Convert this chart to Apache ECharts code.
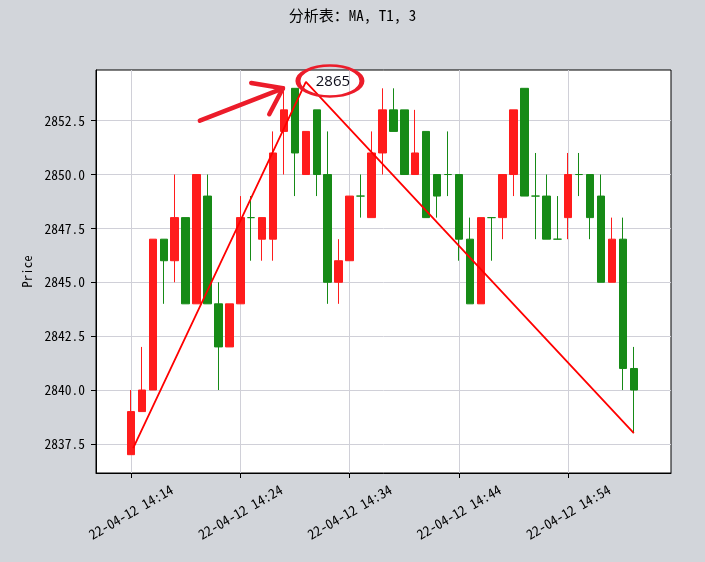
<!DOCTYPE html>
<html><head><meta charset="utf-8">
<script src="https://cdn.jsdelivr.net/npm/echarts@6/dist/echarts.min.js"></script>
<style>html,body{margin:0;padding:0;background:#d2d5da;} #c{width:705px;height:562px;}</style>
</head><body><div id="c"></div>
<script>
const titleText = '分析表：MA, T1, 3';
const dateLabel = '22-04-12';
const times = ['14:14','14:15','14:16','14:17','14:18','14:19','14:20','14:21','14:22','14:23',
  '14:24','14:25','14:26','14:27','14:28','14:29','14:30','14:31','14:32','14:33',
  '14:34','14:35','14:36','14:37','14:38','14:39','14:40','14:41','14:42','14:43',
  '14:44','14:45','14:46','14:47','14:48','14:49','14:50','14:51','14:52','14:53',
  '14:54','14:55','14:56','14:57','14:58','14:59','15:00'];
const opens  = [2837,2839,2840,2847,2846,2848,2844,2849,2844,2842,2844,2848,2847,2847,2852,2854,2850,2853,2850,2845,2846,2849,2848,2851,2853,2853,2850,2852,2850,2850,2850,2847,2844,2848,2848,2850,2854,2849,2849,2847,2848,2850,2850,2849,2845,2847,2841];
const closes = [2839,2840,2847,2846,2848,2844,2850,2844,2842,2844,2848,2848,2848,2851,2853,2851,2852,2850,2845,2846,2849,2849,2851,2853,2852,2850,2851,2848,2849,2850,2847,2844,2848,2848,2850,2853,2849,2849,2847,2847,2850,2850,2848,2845,2847,2841,2840];
const lows   = [2837,2839,2840,2844,2845,2844,2844,2844,2840,2842,2844,2846,2846,2846,2850,2849,2850,2849,2844,2844,2846,2848,2848,2850,2852,2850,2850,2848,2848,2849,2846,2844,2844,2846,2847,2849,2849,2847,2847,2847,2847,2849,2847,2845,2845,2840,2838];
const highs  = [2840,2842,2847,2847,2850,2848,2850,2850,2845,2844,2849,2849,2848,2852,2854,2854,2852,2853,2852,2847,2849,2850,2852,2854,2854,2853,2853,2852,2850,2852,2850,2848,2848,2848,2850,2853,2854,2851,2850,2849,2851,2851,2850,2850,2848,2848,2842];
const xTickIdx = [0, 10, 20, 30, 40];
const yTicks = [2837.5, 2840, 2842.5, 2845, 2847.5, 2850, 2852.5];
const xRange = [-3.2, 49.4];
const yRange = [2836.15, 2854.85];
const trendLine = [[0.2, 2837.3], [16, 2854.3], [46, 2838]];
const arrowSegs = [
  [[6.3, 2852.5], [13.9, 2854.0]],
  [[11.0, 2854.25], [13.9, 2854.0]],
  [[12.65, 2852.8], [13.9, 2854.0]]
];
const noteText = '2865';
const notePos = [18.2, 2854.34];

const RED = '#ff1c1c', GREEN = '#168a16', ANNO = '#ec1c2a';
const FONT = "'Noto Sans Mono CJK SC', 'Noto Sans CJK SC', 'DejaVu Sans Mono', monospace";

const candleData = times.map((t, i) => {
  const item = { value: [i, opens[i], closes[i], lows[i], highs[i]] };
  if (opens[i] === closes[i]) {
    item.itemStyle = { color: GREEN, color0: GREEN, borderColor: GREEN, borderColor0: GREEN };
  }
  return item;
});

const chart = echarts.init(document.getElementById('c'), null, { renderer: 'canvas' });
chart.setOption({
  animation: false,
  backgroundColor: '#d2d5da',
  title: {
    text: titleText, left: 'center', top: 3,
    textStyle: { fontSize: 15, fontWeight: 'normal', color: '#000', fontFamily: FONT }
  },
  grid: {
    left: 96, right: 34, top: 70, bottom: 89,
    show: true, backgroundColor: '#ffffff', borderColor: '#000', borderWidth: 1
  },
  xAxis: {
    type: 'value', min: xRange[0], max: xRange[1],
    axisLine: { show: true, onZero: false, lineStyle: { color: '#000' } },
    axisTick: { show: true, customValues: xTickIdx, length: 5, lineStyle: { color: '#000' } },
    axisLabel: {
      customValues: xTickIdx, rotate: 30, align: 'center', verticalAlign: 'middle', margin: 39,
      formatter: v => dateLabel + ' ' + times[Math.round(v)],
      fontSize: 13.5, color: '#000', fontFamily: FONT
    },
    splitLine: { show: true, lineStyle: { color: '#d0d0d8', width: 1 } }
  },
  yAxis: {
    type: 'value', min: yRange[0], max: yRange[1],
    name: 'Price', nameLocation: 'middle', nameGap: 52, nameRotate: 90,
    nameTextStyle: { fontSize: 13, color: '#000', fontFamily: FONT },
    axisLine: { show: true, onZero: false, lineStyle: { color: '#000' } },
    axisTick: { show: true, customValues: yTicks, length: 5, lineStyle: { color: '#000' } },
    axisLabel: {
      customValues: yTicks, margin: 11,
      formatter: v => Number(v).toFixed(1),
      fontSize: 13.5, color: '#000', fontFamily: FONT
    },
    splitLine: { show: true, lineStyle: { color: '#d0d0d8', width: 1 } }
  },
  series: [
    {
      type: 'candlestick',
      encode: { x: 0, y: [1, 2, 3, 4] },
      data: candleData,
      barWidth: 8,
      itemStyle: { color: RED, color0: GREEN, borderColor: RED, borderColor0: GREEN, borderWidth: 1 },
      z: 2
    },
    {
      type: 'line', data: trendLine, symbol: 'none', silent: true,
      lineStyle: { color: '#ff0000', width: 1.8 }, z: 3
    },
    {
      type: 'lines', coordinateSystem: 'cartesian2d', silent: true,
      data: arrowSegs.map(c => ({ coords: c })),
      lineStyle: { color: ANNO, width: 4.5, opacity: 1, cap: 'round', curveness: 0 },
      z: 4
    },
    {
      type: 'scatter', data: [notePos], symbol: 'circle', symbolSize: [64, 31], clip: false, silent: true,
      itemStyle: { color: 'rgba(255,255,255,0)', borderColor: ANNO, borderWidth: 3.5, opacity: 1 },
      label: { show: true, position: 'inside', offset: [3, 1], formatter: noteText, color: '#0d0d1a', opacity: 1, fontSize: 15, fontFamily: "'Open Sans', 'Noto Sans', sans-serif" },
      z: 5
    }
  ]
});
</script></body></html>
